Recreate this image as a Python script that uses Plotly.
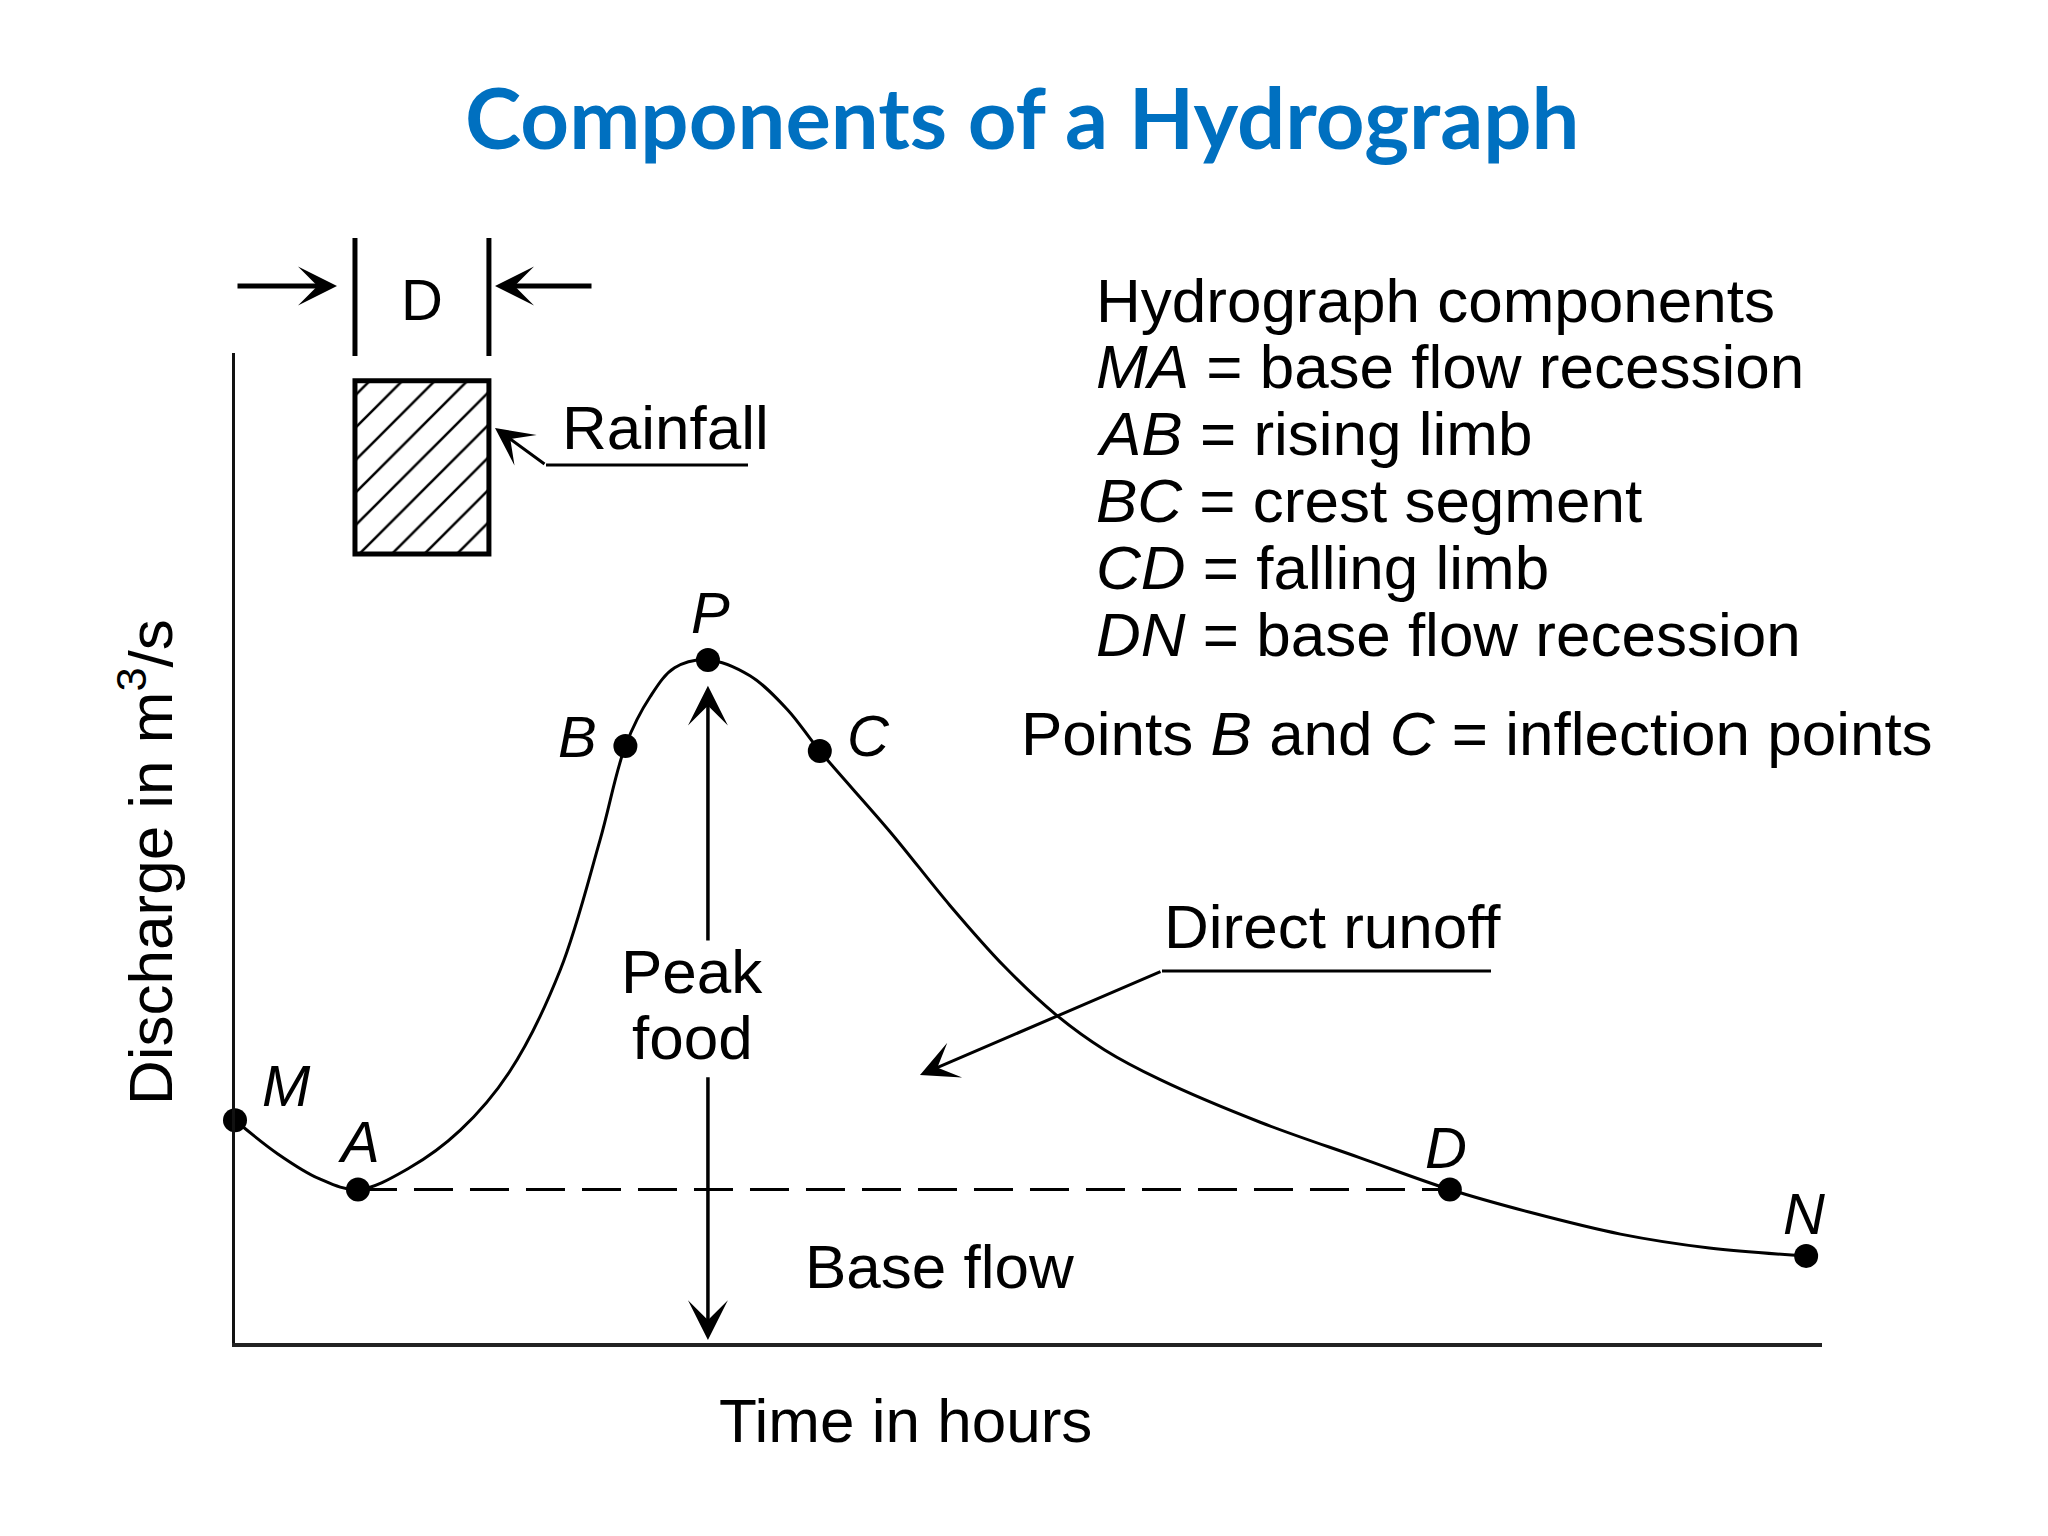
import plotly.graph_objects as go

# ---------------- data ----------------
hours = [0.0, 2.7, 5.3, 7.75, 11.0, 14.2, 17.3, 20.5, 23.0, 24.6, 26.15, 27.7, 29.8,
         32.45, 34.8, 36.85, 41.3, 45.05, 48.5, 51.7, 54.8, 58.3, 64.6, 70.9, 76.55,
         81.6, 87.3, 92.9, 99.0]
discharge = [22.5, 19.1, 16.6, 15.5, 17.7, 21.5, 27.4, 37.7, 50.8, 60.3, 65.25, 68.2,
             69.0, 67.4, 64.0, 59.8, 51.6, 44.2, 38.0, 33.2, 29.6, 26.6, 22.3, 18.7,
             15.5, 13.2, 11.0, 9.6, 8.8]
key_labels = ["M", "A", "B", "P", "C", "D", "N"]
key_index = [0, 3, 9, 12, 15, 24, 28]

rain_start, rain_end = 7.56, 16.0      # hours (duration D)
rain_low, rain_high = 79.7, 97.2       # drawn block height

title_text = "Components of a Hydrograph"
legend_lines = [
    "Hydrograph components",
    "<i>MA</i> = base flow recession",
    "<i>AB</i> = rising limb",
    "<i>BC</i> = crest segment",
    "<i>CD</i> = falling limb",
    "<i>DN</i> = base flow recession",
]
inflection_note = "Points <i>B</i> and <i>C</i> = inflection points"
x_title = "Time in hours"
y_title = "Discharge in m<sup>3</sup>/s"

# ---------------- layout constants ----------------
W, H = 2048, 1536
ML, MR, MT, MB = 235, 226, 353, 193
XR = [0, 100]
YR = [0, 100]
PW, PH = W - ML - MR, H - MT - MB
TXT = "Liberation Sans, Arial, Helvetica, sans-serif"
INK = "black"


def fx(px):
    return (px - ML) / PW


def fy(py):
    return (H - MB - py) / PH


def d2px(x):
    return ML + (x - XR[0]) / (XR[1] - XR[0]) * PW


key_x = [hours[i] for i in key_index]
key_y = [discharge[i] for i in key_index]
A_i, D_i, P_i = key_index[1], key_index[5], key_index[3]

fig = go.Figure()

# rainfall block (hatched)
fig.add_trace(go.Bar(
    x=[(rain_start + rain_end) / 2], y=[rain_high - rain_low], base=[rain_low],
    width=[rain_end - rain_start],
    marker=dict(color="white", line=dict(color=INK, width=5),
                pattern=dict(shape="/", size=23, solidity=0.11, fgcolor=INK,
                             bgcolor="white", fillmode="replace")),
    hoverinfo="skip", showlegend=False))

# base-flow separation (dashed)
fig.add_trace(go.Scatter(
    x=[hours[A_i], hours[D_i]], y=[discharge[A_i], discharge[A_i]], mode="lines",
    line=dict(color=INK, width=3, dash="39px,17px"), hoverinfo="skip",
    showlegend=False, cliponaxis=False))

# hydrograph curve
fig.add_trace(go.Scatter(
    x=hours, y=discharge, mode="lines",
    line=dict(color=INK, width=3, shape="spline", smoothing=1.0),
    hoverinfo="skip", showlegend=False, cliponaxis=False))

# key points
fig.add_trace(go.Scatter(
    x=key_x, y=key_y, mode="markers",
    marker=dict(color=INK, size=24), hoverinfo="skip",
    showlegend=False, cliponaxis=False))

ann = []


def text(s, x, y, size=62, xanchor="left", angle=0):
    ann.append(dict(text=s, x=fx(x), y=fy(y), xref="paper", yref="paper",
                    xanchor=xanchor, yanchor="middle", showarrow=False,
                    textangle=angle,
                    font=dict(family=TXT, size=size, color=INK)))


def arrow(tip, tail, width, size):
    ann.append(dict(text="", x=fx(tip[0]), y=fy(tip[1]), xref="paper", yref="paper",
                    ax=tail[0] - tip[0], ay=tail[1] - tip[1],
                    showarrow=True, arrowhead=3, arrowwidth=width,
                    arrowsize=size, arrowcolor=INK, standoff=0))


# title
ann.append(dict(text=title_text, x=fx(1022), y=fy(116), xref="paper", yref="paper",
                xanchor="center", yanchor="middle", showarrow=False,
                font=dict(family="Lato", size=85, color="#0070C0", weight="bold")))

# right-hand explanation block
for i, s in enumerate(legend_lines):
    text(s, 1094, 300 + i * 66.9)
text(inflection_note, 1019, 733)

# point labels (relative to points)
shifts = {"M": (51, 35), "A": (1, 48), "B": (-48, 10), "P": (3, 47),
          "C": (49, 15), "D": (-4, 42), "N": (-2, 42)}
for lab, xv, yv in zip(key_labels, key_x, key_y):
    sx, sy = shifts[lab]
    ann.append(dict(text="<i>" + lab + "</i>", x=xv, y=yv, xref="x", yref="y",
                    xshift=sx, yshift=sy, showarrow=False, xanchor="center",
                    yanchor="middle", font=dict(family=TXT, size=58, color=INK)))

# rainfall duration marker
x0p, x1p = d2px(rain_start), d2px(rain_end)
text("D", (x0p + x1p) / 2, 299, size=58, xanchor="center")
arrow((337, 286), (236, 286), 5, 1.3)
arrow((495, 286), (593, 286), 5, 1.3)
text("Rainfall", 560, 427)
arrow((495, 428), (546, 465), 3, 2.1)
text("Direct runoff", 1162, 926)
arrow((920, 1075), (1162, 971), 3, 2.1)
text("Base flow", 939, 1266, xanchor="center")
text("Peak", 692, 972, xanchor="center")
text("food", 692, 1037, xanchor="center")

# peak flood double arrow
ann.append(dict(text="", x=hours[P_i], y=66.4, xref="x", yref="y",
                ax=hours[P_i], ay=40.5, axref="x", ayref="y", showarrow=True,
                arrowhead=3, arrowwidth=3.5, arrowsize=1.9, arrowcolor=INK, standoff=0))
ann.append(dict(text="", x=hours[P_i], y=0.3, xref="x", yref="y",
                ax=hours[P_i], ay=27.0, axref="x", ayref="y", showarrow=True,
                arrowhead=3, arrowwidth=3.5, arrowsize=1.9, arrowcolor=INK, standoff=0))

# axis titles
text(x_title, 905, 1420, xanchor="center")
text(y_title, 146, 862, xanchor="center", angle=-90)

shapes = [
    dict(type="line", xref="paper", yref="paper", x0=fx(x0p), x1=fx(x0p),
         y0=fy(238), y1=fy(356), line=dict(color=INK, width=5)),
    dict(type="line", xref="paper", yref="paper", x0=fx(x1p), x1=fx(x1p),
         y0=fy(238), y1=fy(356), line=dict(color=INK, width=5)),
    dict(type="line", xref="paper", yref="paper", x0=fx(546), x1=fx(748),
         y0=fy(465), y1=fy(465), line=dict(color=INK, width=3)),
    dict(type="line", xref="paper", yref="paper", x0=fx(1162), x1=fx(1491),
         y0=fy(971), y1=fy(971), line=dict(color=INK, width=3)),
]

fig.update_layout(
    width=W, height=H,
    margin=dict(l=ML, r=MR, t=MT, b=MB, pad=0),
    paper_bgcolor="white", plot_bgcolor="white",
    showlegend=False,
    xaxis=dict(range=XR, showline=True, linecolor="#222", linewidth=3.5,
               showgrid=False, zeroline=False, showticklabels=False, ticks=""),
    yaxis=dict(range=YR, showline=True, linecolor="#111", linewidth=3,
               showgrid=False, zeroline=False, showticklabels=False, ticks=""),
    annotations=ann, shapes=shapes,
)

fig.write_html("out.html", config={"displayModeBar": False},
               post_script="document.body.style.margin='0';document.body.style.overflow='hidden';")
